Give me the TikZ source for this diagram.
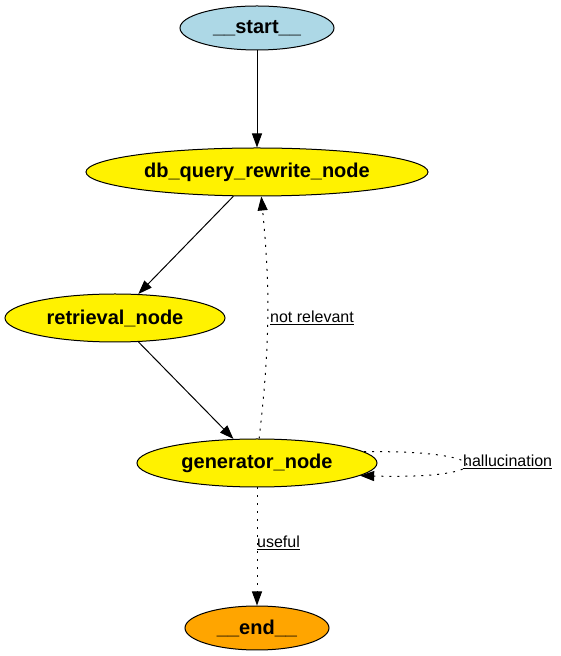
\documentclass[tikz,border=0pt]{standalone}
\usepackage{fontspec}
\setmainfont{Liberation Sans}
\usetikzlibrary{shapes.geometric, arrows.meta}

\begin{document}
\begin{tikzpicture}[x=1pt, y=1pt,
    state/.style={ellipse, draw, line width=1pt, inner sep=0pt, font=\fontsize{20}{24}\selectfont\bfseries},
    flow/.style={line width=1pt, -{Triangle[length=14pt, width=10pt]}},
    cond/.style={flow, dash pattern=on 2pt off 6pt},
    lbl/.style={anchor=west, inner sep=0pt, font=\fontsize{16}{19}\selectfont}]
    \useasboundingbox (0,0) rectangle (560,656);

    % Nodes
    \node[state, fill={rgb,255:red,173;green,216;blue,230}, minimum width=154, minimum height=44] (start) at (257,628) {\_\_start\_\_};
    \node[state, fill=yellow, minimum width=342, minimum height=48] (db) at (257,484) {db\_query\_rewrite\_node};
    \node[state, fill=yellow, minimum width=220, minimum height=48] (retr) at (115,338) {retrieval\_node};
    \node[state, fill=yellow, minimum width=240, minimum height=48] (gen) at (257,193) {generator\_node};
    \node[state, fill={rgb,255:red,255;green,165;blue,0}, minimum width=144, minimum height=44] (end) at (257,28) {\_\_end\_\_};

    % Edges
    \draw[flow] (start) -- (db);
    \draw[flow] (db) -- (retr);
    \draw[flow] (retr) -- (gen);
    \draw[cond] (gen.85) to[bend right=6] (db.-80);
    \draw[cond] (gen.6) .. controls +(135,2) and +(140,-4) .. (gen.-7);
    \draw[cond] (gen) -- (end);

    % Edge labels
    \node[lbl] (notrel) at (270,338) {\underline{not relevant}};
    \node[lbl] (halluc) at (463,194) {\underline{hallucination}};
    \node[lbl] (useful) at (257,113) {\underline{useful}};
\end{tikzpicture}
\end{document}
